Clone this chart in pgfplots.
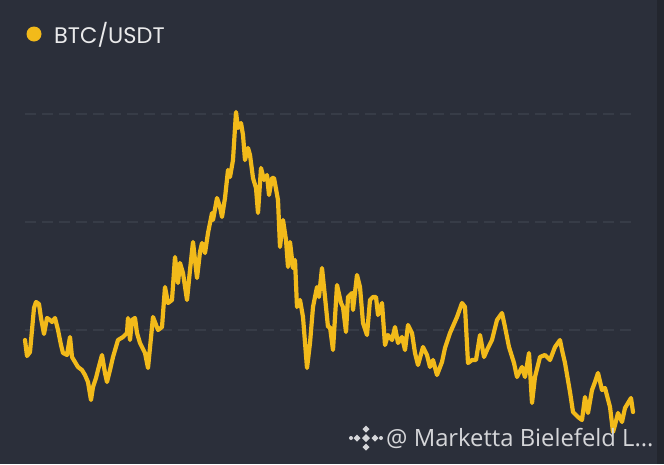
\documentclass[border=0pt]{standalone}
\usepackage{fontspec}
\setmainfont{Open Sans}
\newfontfamily\popfont{Poppins}
\usepackage{pgfplots}
\usepackage{pgfplotstable}
\pgfplotsset{compat=1.18}
\definecolor{bg}{HTML}{2B2F3A}
\definecolor{bgedge}{HTML}{23262E}
\definecolor{btc}{HTML}{F2BA1A}
\definecolor{gridc}{HTML}{373C47}
\definecolor{wm}{HTML}{D5D6D9}

% price trace, in picture pixels (y counted downwards)
\pgfplotstableread{
x y
25 340
27 356
30 352
32 330
34 308
36 302
39 304
41 318
44 334
47 318
50 320
52 322
55 318
58 330
61 345
63 353
67 355
70 337
72 357
75 362
78 367
82 370
85 375
88 382
91 400
93 387
96 378
98 370
102 355
105 373
107 382
110 370
113 357
118 340
123 337
127 333
128 318
130 340
132 320
135 318
137 333
140 343
145 353
148 368
153 317
158 330
162 327
165 287
168 303
172 300
175 257
178 283
180 263
183 273
187 300
190 270
193 242
197 278
200 252
202 243
205 253
208 233
212 213
213 220
217 198
220 207
222 217
225 198
228 170
230 177
233 160
236 112
238 128
241 123
243 135
245 160
248 148
250 155
253 178
256 188
258 213
261 168
264 180
267 175
269 195
272 178
274 178
278 200
280 247
283 220
286 240
288 267
290 242
293 268
295 260
297 307
300 300
303 317
307 368
310 343
313 307
317 287
319 297
322 268
325 297
328 327
330 327
333 350
337 285
341 303
343 307
346 332
348 297
352 293
353 310
357 275
360 287
363 323
367 335
370 300
373 297
376 297
378 315
382 303
385 345
388 335
392 340
395 327
398 343
402 337
405 350
408 325
412 333
415 353
418 365
423 347
427 355
430 367
433 360
437 375
442 362
445 348
450 333
457 317
462 303
465 307
468 363
472 360
476 360
480 335
484 357
487 350
492 340
497 320
502 313
505 327
509 347
514 363
517 377
522 367
525 377
529 353
532 403
535 377
540 357
545 355
550 360
555 347
560 340
562 350
565 363
570 392
573 412
578 417
582 420
585 397
588 413
592 390
595 382
598 373
602 390
605 388
610 407
613 432
615 425
618 413
622 422
625 408
628 403
631 398
633 412
}\btcdata

\begin{document}
\begin{tikzpicture}
\fill[bg] (0,0) rectangle (664pt,464pt);
\fill[bgedge] (657pt,0) rectangle (664pt,464pt);
\useasboundingbox (0,0) rectangle (664pt,464pt);
\begin{axis}[
  at={(0,0)}, anchor=south west,
  scale only axis, width=664pt, height=464pt,
  xmin=0, xmax=664, ymin=0, ymax=464,
  y dir=reverse,
  hide axis, clip=false,
]
\addplot[gridc, line width=1.5pt, dash pattern=on 11pt off 6pt] coordinates {(25,114) (637,114)};
\addplot[gridc, line width=1.5pt, dash pattern=on 11pt off 6pt] coordinates {(25,222) (637,222)};
\addplot[gridc, line width=1.5pt, dash pattern=on 11pt off 6pt] coordinates {(25,330) (637,330)};
\addplot[btc, line width=4.2pt, line join=round, line cap=round]
  table[x=x, y=y] {\btcdata};

% legend
\fill[btc] (axis cs:34,34) circle (7.5pt);
\node[anchor=west, text=white!90!bg, font=\popfont\fontsize{22.5}{25}\selectfont, inner sep=0pt] at (axis cs:54,35) {BTC/USDT};

% watermark
\node[anchor=west, text=wm, font=\fontsize{23.8}{26}\selectfont, inner sep=0pt] at (axis cs:386,438) {@ Marketta Bielefeld L...};
\begin{scope}[wm]
\fill (axis cs:366,438) +(0,-4pt) -- +(4pt,0) -- +(0,4pt) -- +(-4pt,0) -- cycle;
\fill (axis cs:366,429) +(0,-3.5pt) -- +(3.5pt,0) -- +(0,3.5pt) -- +(-3.5pt,0) -- cycle;
\fill (axis cs:366,447) +(0,-3.5pt) -- +(3.5pt,0) -- +(0,3.5pt) -- +(-3.5pt,0) -- cycle;
\fill (axis cs:357,438) +(0,-3.5pt) -- +(3.5pt,0) -- +(0,3.5pt) -- +(-3.5pt,0) -- cycle;
\fill (axis cs:375,438) +(0,-3.5pt) -- +(3.5pt,0) -- +(0,3.5pt) -- +(-3.5pt,0) -- cycle;
\fill (axis cs:351,438) circle (2pt);
\fill (axis cs:381,438) circle (2pt);
\end{scope}
\end{axis}
\end{tikzpicture}
\end{document}
